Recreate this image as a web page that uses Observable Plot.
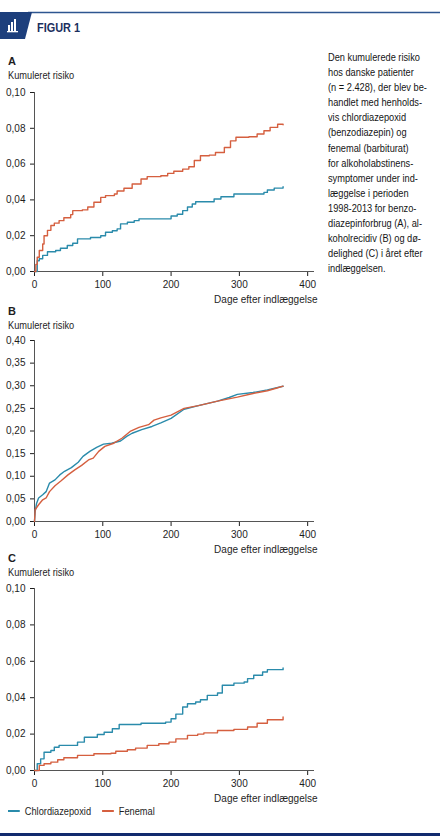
<!DOCTYPE html>
<html lang="da">
<head>
<meta charset="UTF-8">
<title>Figur 1</title>
<script src="https://cdn.jsdelivr.net/npm/d3@7"></script>
<script src="https://cdn.jsdelivr.net/npm/@observablehq/plot@0.6"></script>
<style>
  body { margin: 0; width: 440px; height: 840px; position: relative; overflow: hidden; background: #fff;
         font-family: "Liberation Sans", Arial, sans-serif; color: #1e1e1e; }
  .abs { position: absolute; }
  .smal { transform: scaleX(0.84); transform-origin: 0 0; }
  .letter { font-weight: bold; font-size: 11px; }
  .ylab { font-size: 11px; white-space: nowrap; }
  #caption { left: 328px; top: 50px; font-size: 11px; line-height: 15.1px; white-space: nowrap; color: #151515; }
  #legend { left: 8px; top: 805px; font-size: 11px; display: flex; align-items: center; white-space: nowrap; }
  #legend span.sw { display: inline-block; width: 14px; height: 1.8px; margin-right: 6px; }
  #legend span.lb { margin-right: 13px; }
</style>
</head>
<body>

<!-- en-tête -->
<svg class="abs" style="left:0;top:0" width="440" height="42">
  <line x1="28" x2="440" y1="12.5" y2="12.5" stroke="#2d5690" stroke-width="1.5"/>
  <polygon points="0,12 32,12 25,39 0,39" fill="#1d3f7c"/>
  <g fill="#fff">
    <rect x="8" y="25" width="2" height="6"/>
    <rect x="11" y="22" width="2" height="9"/>
    <rect x="14" y="19" width="2" height="12"/>
    <rect x="7" y="31" width="11" height="1.3"/>
  </g>
  <text x="37" y="32" font-size="13" font-weight="bold" fill="#1b2f5e" textLength="43" lengthAdjust="spacingAndGlyphs"
        font-family="'Liberation Sans',Arial,sans-serif">FIGUR 1</text>
</svg>

<div id="caption" class="abs smal">
Den kumulerede risiko<br>
hos danske patienter<br>
(n = 2.428), der blev be-<br>
handlet med henholds-<br>
vis chlordiazepoxid<br>
(benzodiazepin) og<br>
fenemal (barbiturat)<br>
for alkoholabstinens-<br>
symptomer under ind-<br>
læggelse i perioden<br>
1998-2013 for benzo-<br>
diazepinforbrug (A), al-<br>
koholrecidiv (B) og dø-<br>
delighed (C) i året efter<br>
indlæggelsen.
</div>

<div class="abs letter" style="left:8px;top:55px">A</div>
<div class="abs ylab smal" style="left:8px;top:69px">Kumuleret risiko</div>
<div id="panelA" class="abs" style="left:0;top:82px"></div>

<div class="abs letter" style="left:8px;top:305px">B</div>
<div class="abs ylab smal" style="left:8px;top:319px">Kumuleret risiko</div>
<div id="panelB" class="abs" style="left:0;top:330px"></div>

<div class="abs letter" style="left:8px;top:552px">C</div>
<div class="abs ylab smal" style="left:8px;top:566px">Kumuleret risiko</div>
<div id="panelC" class="abs" style="left:0;top:578px"></div>

<div id="legend" class="abs smal">
  <span class="sw" style="background:#2a8bab"></span><span class="lb">Chlordiazepoxid</span>
  <span class="sw" style="background:#d55f3f"></span><span class="lb">Fenemal</span>
</div>

<div class="abs" style="left:0;top:833px;width:440px;height:2.5px;background:#122a6e"></div>

<script>
// séries (jours, risque cumulé)
const serier = ["Chlordiazepoxid", "Fenemal"];
const farver = ["#2a8bab", "#d55f3f"];

// A : benzodiazepinforbrug
const dageA_chlor = [0, 4, 7, 12, 19, 31, 38, 48, 56, 63, 82, 97, 104, 114, 121, 126, 136, 146, 153, 195, 200, 209, 217, 224, 231, 236, 263, 273, 292, 336, 341, 351, 364];
const riskA_chlor = [0, 0.006, 0.0071, 0.009, 0.011, 0.0117, 0.013, 0.0145, 0.0158, 0.0182, 0.019, 0.020, 0.0219, 0.0228, 0.0238, 0.0266, 0.0275, 0.0284, 0.0294, 0.0294, 0.031, 0.032, 0.034, 0.036, 0.0377, 0.039, 0.0405, 0.0418, 0.0433, 0.0442, 0.0455, 0.0466, 0.0474];
const dageA_fen = [0, 2, 4, 7, 12, 14, 19, 24, 29, 36, 43, 53, 56, 70, 78, 87, 97, 104, 117, 121, 131, 143, 156, 165, 185, 195, 204, 217, 226, 234, 243, 256, 265, 278, 287, 295, 314, 326, 336, 345, 356, 364];
const riskA_fen = [0, 0.004, 0.008, 0.0117, 0.0154, 0.020, 0.023, 0.0257, 0.027, 0.0284, 0.030, 0.0318, 0.034, 0.0344, 0.036, 0.0387, 0.0414, 0.0424, 0.0433, 0.045, 0.0465, 0.0489, 0.0517, 0.053, 0.0535, 0.0548, 0.056, 0.0572, 0.0585, 0.062, 0.0647, 0.065, 0.0665, 0.0693, 0.073, 0.075, 0.0753, 0.0768, 0.0786, 0.0805, 0.0823, 0.082];

// B : alkoholrecidiv
const dageB_chlor = [0, 1, 3, 6, 12, 17, 22, 30, 37, 44, 54, 64, 71, 81, 91, 101, 113, 126, 135, 143, 157, 172, 185, 200, 219, 240, 268, 285, 297, 320, 341, 364];
const riskB_chlor = [0, 0.022, 0.04, 0.052, 0.059, 0.066, 0.085, 0.092, 0.103, 0.111, 0.119, 0.131, 0.144, 0.155, 0.164, 0.171, 0.173, 0.178, 0.188, 0.195, 0.203, 0.210, 0.218, 0.228, 0.248, 0.256, 0.266, 0.274, 0.281, 0.285, 0.291, 0.299];
const dageB_fen = [0, 1, 6, 12, 17, 22, 30, 39, 49, 59, 69, 79, 86, 94, 103, 116, 128, 140, 153, 167, 175, 185, 200, 219, 240, 268, 297, 320, 341, 355, 364];
const riskB_fen = [0, 0.026, 0.037, 0.048, 0.052, 0.066, 0.079, 0.090, 0.103, 0.114, 0.124, 0.136, 0.140, 0.155, 0.166, 0.173, 0.184, 0.199, 0.208, 0.214, 0.224, 0.229, 0.235, 0.250, 0.256, 0.266, 0.275, 0.283, 0.289, 0.295, 0.299];

// C : dødelighed
const dageC_chlor = [0, 4, 9, 14, 24, 29, 36, 63, 73, 92, 102, 114, 124, 146, 156, 192, 200, 207, 217, 224, 236, 243, 253, 268, 275, 292, 307, 312, 321, 334, 341, 364];
const riskC_chlor = [0, 0.0037, 0.0064, 0.010, 0.011, 0.0128, 0.0138, 0.0156, 0.0183, 0.0198, 0.021, 0.0229, 0.0253, 0.0253, 0.026, 0.0266, 0.0284, 0.031, 0.0349, 0.0367, 0.0376, 0.0389, 0.0413, 0.0426, 0.0468, 0.048, 0.0486, 0.0505, 0.0523, 0.0541, 0.0554, 0.0563];
const dageC_fen = [0, 7, 14, 24, 34, 43, 63, 87, 112, 119, 136, 148, 165, 182, 197, 207, 224, 239, 248, 268, 292, 312, 326, 341, 364];
const riskC_fen = [0, 0.0028, 0.0037, 0.0046, 0.0059, 0.007, 0.0083, 0.0092, 0.0095, 0.0106, 0.0114, 0.0123, 0.0138, 0.0147, 0.0156, 0.0174, 0.0193, 0.020, 0.0207, 0.022, 0.0226, 0.0239, 0.026, 0.0279, 0.0294];

const xTicks = [0, 100, 200, 300, 400];
const yTicksA = [0, 0.02, 0.04, 0.06, 0.08, 0.10];
const yTicksB = [0, 0.05, 0.10, 0.15, 0.20, 0.25, 0.30, 0.35, 0.40];
const yTicksC = [0, 0.02, 0.04, 0.06, 0.08, 0.10];
const xLabel = "Dage efter indlæggelse";

const font = "'Liberation Sans',Arial,sans-serif";

function rækker(dage, risiko, serie) {
  return dage.map((d, i) => ({dag: d, risiko: risiko[i], serie}));
}

function tegnPanel(id, chlor, fen, yTicks, indreHøjde, kurve) {
  const data = [...rækker(chlor[0], chlor[1], serier[0]), ...rækker(fen[0], fen[1], serier[1])];
  const yMax = yTicks[yTicks.length - 1];
  const chart = Plot.plot({
    width: 320,
    height: indreHøjde + 50,
    marginLeft: 34, marginRight: 6, marginTop: 10, marginBottom: 40,
    style: {fontFamily: font, fontSize: "10px", color: "#1e1e1e", background: "transparent"},
    x: {domain: [0, 410], ticks: xTicks, tickSize: 5, tickFormat: d => String(d),
        label: xLabel, labelAnchor: "right", labelArrow: "none", labelOffset: 31},
    y: {domain: [0, yMax], ticks: yTicks, tickSize: 4, label: null,
        tickFormat: d => d.toFixed(2).replace(".", ",")},
    color: {domain: serier, range: farver},
    marks: [
      Plot.ruleY([0], {stroke: "#555", strokeWidth: 1}),
      Plot.ruleX([0], {y1: 0, y2: yMax, stroke: "#555", strokeWidth: 1}),
      Plot.line(data, {x: "dag", y: "risiko", stroke: "serie", z: "serie", curve: kurve, strokeWidth: 1.4})
    ]
  });
  document.getElementById(id).appendChild(chart);
}

tegnPanel("panelA", [dageA_chlor, riskA_chlor], [dageA_fen, riskA_fen], yTicksA, 179, "step-after");
tegnPanel("panelB", [dageB_chlor, riskB_chlor], [dageB_fen, riskB_fen], yTicksB, 181, "linear");
tegnPanel("panelC", [dageC_chlor, riskC_chlor], [dageC_fen, riskC_fen], yTicksC, 182, "step-after");
</script>
</body>
</html>
